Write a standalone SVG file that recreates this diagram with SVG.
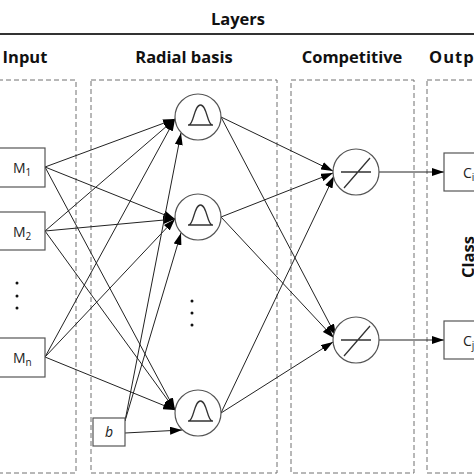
<svg xmlns="http://www.w3.org/2000/svg" width="474" height="474" viewBox="0 0 474 474">
<defs>
<marker id="ah" markerUnits="userSpaceOnUse" markerWidth="12" markerHeight="8" refX="12" refY="4" orient="auto">
<path d="M0,0 L12,4 L0,8 z" fill="#000"/>
</marker>
<style>
.hdr{font-family:"Open Sans","Liberation Sans",sans-serif;font-weight:bold;font-size:16.5px;fill:#111}
.lbl{font-family:"Open Sans","Liberation Sans",sans-serif;font-size:14px;fill:#222}
.sub{font-size:10px}
.zone{fill:none;stroke:#707070;stroke-width:1;stroke-dasharray:5,3}
.box{fill:#fff;stroke:#555;stroke-width:1.2}
.node{fill:#fff;stroke:#555;stroke-width:1.2}
.sym{fill:none;stroke:#333;stroke-width:1.3}
.edge{fill:none;stroke:#222;stroke-width:1;marker-end:url(#ah)}
.dot{fill:#111}
</style>
</defs>
<rect width="474" height="474" fill="#fff"/>

<text class="hdr" x="238" y="25" text-anchor="middle">Layers</text>
<line x1="0" y1="34" x2="474" y2="34" stroke="#333" stroke-width="2"/>
<text class="hdr" x="25" y="63" text-anchor="middle">Input</text>
<text class="hdr" x="184" y="63" text-anchor="middle">Radial basis</text>
<text class="hdr" x="352" y="63" text-anchor="middle">Competitive</text>
<text class="hdr" x="429" y="63" font-size="18px" letter-spacing="1">Output</text>

<g id="zones">
<rect class="zone" x="-10" y="80" width="86" height="393"/>
<rect class="zone" x="91" y="80" width="186" height="393"/>
<rect class="zone" x="291" y="80" width="123" height="393"/>
<rect class="zone" x="427" y="80" width="70" height="393"/>
</g>

<g id="connectors">
<line class="edge" x1="45" y1="167" x2="175" y2="119"/>
<line class="edge" x1="45" y1="167" x2="175" y2="219"/>
<line class="edge" x1="45" y1="167" x2="175" y2="410"/>
<line class="edge" x1="45" y1="231" x2="175" y2="119"/>
<line class="edge" x1="45" y1="231" x2="175" y2="219"/>
<line class="edge" x1="45" y1="231" x2="175" y2="410"/>
<line class="edge" x1="45" y1="357" x2="175" y2="119"/>
<line class="edge" x1="45" y1="357" x2="175" y2="219"/>
<line class="edge" x1="45" y1="357" x2="175" y2="410"/>
<line class="edge" x1="125" y1="421" x2="181" y2="133"/>
<line class="edge" x1="125" y1="421" x2="181" y2="233"/>
<line class="edge" x1="125" y1="433" x2="182" y2="430"/>
<line class="edge" x1="221" y1="117" x2="333" y2="171"/>
<line class="edge" x1="221" y1="217" x2="333" y2="173"/>
<line class="edge" x1="221" y1="413" x2="334" y2="176"/>
<line class="edge" x1="221" y1="117" x2="336" y2="336"/>
<line class="edge" x1="221" y1="217" x2="334" y2="338"/>
<line class="edge" x1="221" y1="413" x2="333" y2="342"/>
<line class="edge" x1="379" y1="172" x2="444" y2="172"/>
<line class="edge" x1="379" y1="340" x2="444" y2="340"/>
</g>

<g id="M1"><rect class="box" x="-1" y="148" width="46" height="39"/><text class="lbl" x="13" y="173">M<tspan class="sub" dy="3">1</tspan></text></g>
<g id="M2"><rect class="box" x="-1" y="212" width="46" height="38"/><text class="lbl" x="13" y="237">M<tspan class="sub" dy="3">2</tspan></text></g>
<g id="Mdots"><circle class="dot" cx="17" cy="283" r="1.5"/><circle class="dot" cx="17" cy="296" r="1.5"/><circle class="dot" cx="17" cy="308" r="1.5"/></g>
<g id="Mn"><rect class="box" x="-1" y="338" width="46" height="39"/><text class="lbl" x="13" y="363">M<tspan class="sub" dy="3">n</tspan></text></g>
<g id="b"><rect class="box" x="93" y="418" width="32" height="28"/><text class="lbl" x="109" y="437" text-anchor="middle" font-style="italic">b</text></g>

<g id="R1"><circle class="node" cx="198" cy="117" r="23"/><path class="sym" d="M188,125 H213 M189,125 C194,124 194,105 200.5,105 C207,105 207,124 212,125"/></g>
<g id="R2"><circle class="node" cx="198" cy="217" r="23"/><path class="sym" d="M188,225 H213 M189,225 C194,224 194,205 200.5,205 C207,205 207,224 212,225"/></g>
<g id="Rdots"><circle class="dot" cx="192" cy="301" r="1.5"/><circle class="dot" cx="192" cy="313" r="1.5"/><circle class="dot" cx="192" cy="325" r="1.5"/></g>
<g id="R3"><circle class="node" cx="198" cy="413" r="23"/><path class="sym" d="M188,421 H213 M189,421 C194,420 194,401 200.5,401 C207,401 207,420 212,421"/></g>

<g id="C1"><circle class="node" cx="356" cy="172" r="23"/><path class="sym" d="M341,172 H371 M344,188 L370,158"/></g>
<g id="C2"><circle class="node" cx="356" cy="340" r="23"/><path class="sym" d="M341,340 H371 M344,356 L370,326"/></g>

<g id="Ci"><rect class="box" x="444" y="153" width="50" height="38"/><text class="lbl" x="463" y="178">C<tspan class="sub" dy="3">i</tspan></text></g>
<g id="Cj"><rect class="box" x="444" y="321" width="50" height="38"/><text class="lbl" x="463" y="346">C<tspan class="sub" dy="3">j</tspan></text></g>

<text class="hdr" transform="translate(474,257) rotate(-90)" text-anchor="middle" font-size="20px">Class</text>
</svg>
